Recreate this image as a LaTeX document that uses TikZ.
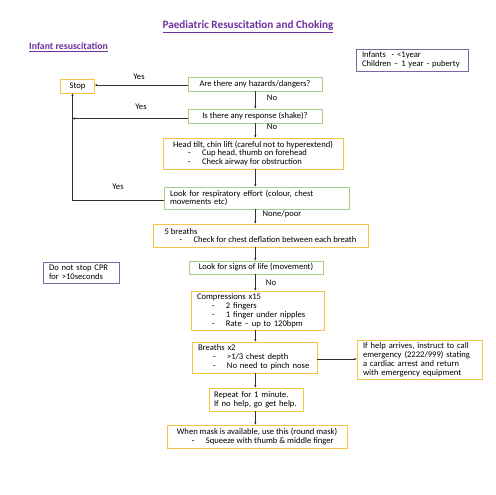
\documentclass[tikz,border=0pt]{standalone}
\usepackage{fontspec}
\setmainfont{Carlito}
\usetikzlibrary{arrows.meta}
\definecolor{boxyellow}{HTML}{F4C542}
\definecolor{boxgreen}{HTML}{A6CF88}
\definecolor{boxpurple}{HTML}{8064A2}
\definecolor{titlepurple}{HTML}{7030A0}
\definecolor{linegrey}{HTML}{303030}
\newcommand\fs{\fontsize{8.6}{8.9}\selectfont}
\newcommand\ditem[1]{\makebox[29pt][l]{\hspace*{15pt}-}#1}
\tikzset{
  box/.style={draw, line width=0.8pt, inner xsep=6pt, inner ysep=1.5pt, font=\fs, align=left, anchor=center},
  ybox/.style={box, draw=boxyellow},
  gbox/.style={box, draw=boxgreen},
  pbox/.style={box, draw=boxpurple},
  arr/.style={draw=linegrey, line width=0.6pt, -{Stealth[length=2.5pt,width=2.2pt]}},
  lbl/.style={font=\fs, inner sep=1pt},
}
\begin{document}
\begin{tikzpicture}[x=1pt,y=-1pt]
\useasboundingbox[fill=white] (0,0) rectangle (495,495);
\coordinate (spine) at (255.3,0);
\coordinate (trunk) at (72.5,0);
% titles
\node[font=\fontsize{11.2}{13}\selectfont\bfseries, text=titlepurple, inner sep=0] (title) at (248,27) {\underline{Paediatric Resuscitation and Choking}};
\node[font=\fontsize{9.8}{11}\selectfont\bfseries, text=titlepurple, inner sep=0, anchor=west] (sub) at (29,47) {\underline{Infant resuscitation}};
% boxes
\node[pbox, text width=100pt, minimum height=22pt] (info) at (412,60) {Infants\ \ - <1year\\Children – 1 year - puberty};
\node[ybox, minimum width=34pt, minimum height=14pt, align=center] (stop) at (77.5,86) {Stop};
\node[gbox, minimum width=134pt, minimum height=14pt, align=center] (hazards) at (255,84) {Are there any hazards/dangers?};
\node[gbox, minimum width=134pt, minimum height=14pt, align=center] (response) at (255,116) {Is there any response (shake)?};
\node[ybox, minimum width=180pt, minimum height=31pt] (headtilt) at (253,153.5) {Head tilt, chin lift (careful not to hyperextend)\\\ditem{Cup head, thumb on forehead}\\\ditem{Check airway for obstruction}};
\node[gbox, text width=173pt, minimum height=22pt] (resp) at (256.5,198) {Look for respiratory effort (colour, chest\\movements etc)};
\node[ybox, minimum width=215pt, minimum height=23pt] (breaths5) at (260.5,235.5) {5 breaths\\\ditem{Check for chest deflation between each breath}};
\node[gbox, minimum width=134pt, minimum height=13pt, align=center] (signs) at (256,267.5) {Look for signs of life (movement)};
\node[pbox, text width=64pt, minimum height=21pt] (cpr) at (81,272.5) {Do not stop CPR\\for >10seconds};
\node[ybox, text width=121pt, minimum height=39pt] (comp) at (257.5,310.5) {Compressions x15\\\ditem{2 fingers}\\\ditem{1 finger under nipples}\\\ditem{Rate – up to 120bpm}};
\node[ybox, text width=113pt, minimum height=31pt] (breaths) at (254.5,357.5) {Breaths x2\\\ditem{>1/3 chest depth}\\\ditem{No need to pinch nose}};
\node[ybox, text width=113pt, minimum height=39pt] (help) at (419.5,359.5) {If help arrives, instruct to call\\emergency (2222/999) stating\\a cardiac arrest and return\\with emergency equipment};
\node[ybox, text width=84pt, minimum height=23pt, inner xsep=5pt] (repeat) at (256,399.5) {Repeat for 1 minute.\\If no help, go get help.};
\node[ybox, minimum width=180pt, minimum height=23pt] (mask) at (257,436.5) {When mask is available, use this (round mask)\\\ditem{Squeeze with thumb \& middle finger}};
% connectors
\draw[arr] ([yshift=-1pt]hazards.west) -- ([yshift=-1pt]hazards.west -| stop.east);
\node[lbl] (yes1) at (139,76.5) {Yes};
\draw[arr] (spine |- hazards.south) -- (spine |- response.north);
\node[lbl] (no1) at (272,98) {No};
\draw[arr] ([yshift=-2.5pt]response.west) -- ([yshift=-2.5pt]response.west -| trunk);
\node[lbl, fill=white, minimum width=28pt, text height=5.5pt, text depth=5.5pt, inner ysep=0pt, anchor=base] (yes2) at (141,109.5) {Yes};
\draw[arr] (spine |- response.south) -- (spine |- headtilt.north);
\node[lbl] (no2) at (272,127) {No};
\draw[arr] (spine |- headtilt.south) -- (spine |- resp.north);
\draw[arr] ([yshift=-2pt]resp.west) -- ([yshift=-2pt]resp.west -| trunk) -- (trunk |- stop.south);
\node[lbl] (yes3) at (118,187) {Yes};
\draw[arr] (spine |- resp.south) -- (spine |- breaths5.north);
\node[lbl] (none) at (282,214) {None/poor};
\draw[arr] (spine |- breaths5.south) -- (spine |- signs.north);
\draw[arr] (spine |- signs.south) -- (spine |- comp.north);
\node[lbl] (no3) at (271,283) {No};
\draw[arr] (spine |- comp.south) -- (spine |- breaths.north);
\draw[arr] ([yshift=-1.5pt]breaths.east) -- ([yshift=-1.5pt]breaths.east -| help.west);
\draw[arr] (spine |- breaths.south) -- (spine |- repeat.north);
\draw[arr] (spine |- repeat.south) -- (spine |- mask.north);
\end{tikzpicture}
\end{document}
